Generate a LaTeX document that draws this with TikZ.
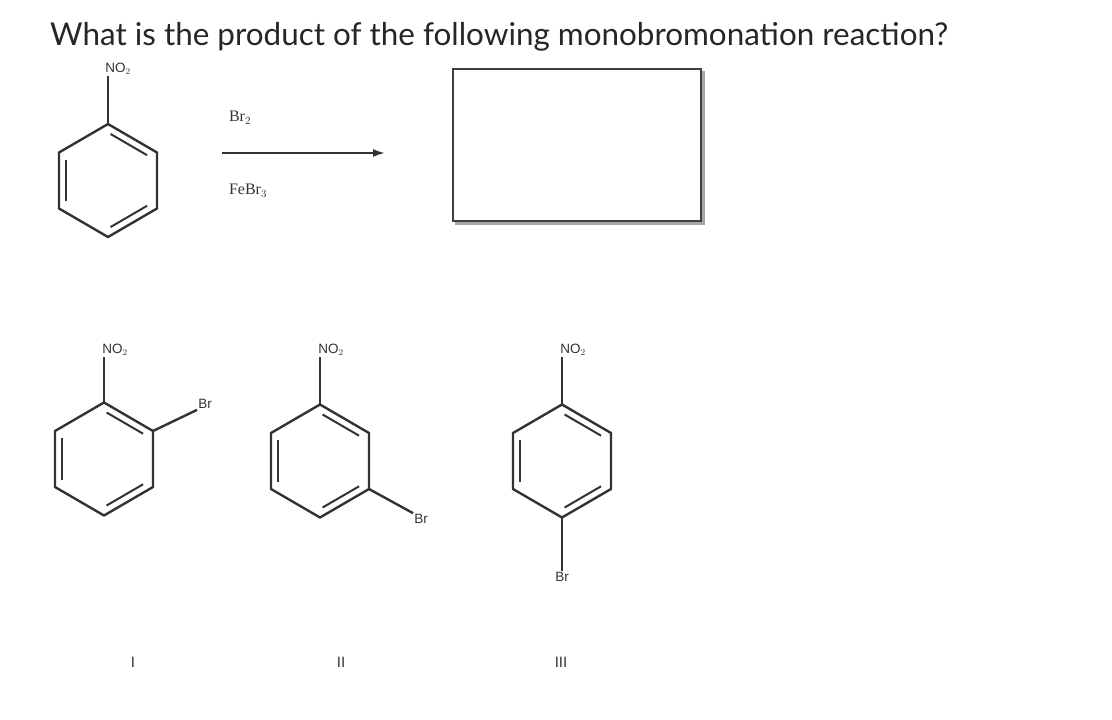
\documentclass[tikz,border=0pt]{standalone}
\usepackage{fontspec}
\setmainfont{Liberation Serif}
\setsansfont{Liberation Sans}
\newfontfamily\titlefont{Lato}
\usetikzlibrary{calc,arrows.meta}
\definecolor{bond}{HTML}{333333}
\tikzset{
  bondline/.style={draw=bond, line width=2.4pt},
  inner/.style={draw=bond, line width=2pt, shorten <=3pt, shorten >=3pt},
  grp/.style={font=\sffamily\fontsize{13.5}{13.5}\selectfont, text=bond, inner sep=1pt},
  reag/.style={font=\fontsize{16}{16}\selectfont, text=bond, inner sep=1pt},
  numlab/.style={font=\sffamily\fontsize{15}{15}\selectfont, text=bond, inner sep=1pt}
}
\newcommand{\benz}[3]{%
  \coordinate (#1c) at (#2,#3);
  \coordinate (#11) at ($(#2,#3)+(0,-56.5)$);
  \coordinate (#12) at ($(#2,#3)+(49,-28)$);
  \coordinate (#13) at ($(#2,#3)+(49,28)$);
  \coordinate (#14) at ($(#2,#3)+(0,56.5)$);
  \coordinate (#15) at ($(#2,#3)+(-49,28)$);
  \coordinate (#16) at ($(#2,#3)+(-49,-28)$);
  \draw[bondline, line join=round] (#11)--(#12)--(#13)--(#14)--(#15)--(#16)--cycle;
  \draw[inner] ($(#1c)!0.85!(#11)$) -- ($(#1c)!0.85!(#12)$);
  \draw[inner] ($(#1c)!0.85!(#15)$) -- ($(#1c)!0.85!(#16)$);
  \draw[inner] ($(#1c)!0.85!(#13)$) -- ($(#1c)!0.85!(#14)$);
}
\begin{document}
\begin{tikzpicture}[x=1pt,y=-1pt]
\useasboundingbox[fill=white] (0,0) rectangle (1112,720);
\node[anchor=south west, inner sep=0, text=black!85] (title) at (50,51)
  {\resizebox{898pt}{!}{\titlefont\fontsize{26}{26}\selectfont What is the product of the following monobromonation reaction?}};
% starting material
\benz{s}{108}{180.5}
\node[grp] (sno) at (118,69) {NO$_2$};
\draw[bondline] (s1) -- (sno.south -| s1);
% reagents
\coordinate (arS) at (222,153);
\coordinate (arE) at (385,153);
\draw[draw=bond, line width=2pt, -{Latex[length=12pt,width=8pt]}] (arS) -- (arE);
\node[reag] (br2) at (240,118) {Br$_2$};
\node[reag] (febr) at (248,191) {FeBr$_3$};
% answer box
\fill[black!35] (455,71) rectangle (705,225);
\node[draw=black!75, fill=white, line width=1.6pt, minimum width=248pt, minimum height=152pt, anchor=north west, inner sep=0] (box) at (452,68) {};
% I
\benz{a}{104}{459}
\node[grp] (ano) at (115,350) {NO$_2$};
\draw[bondline] (a1) -- (ano.south -| a1);
\node[grp] (abr) at (205,404) {Br};
\draw[bondline] (a2) -- (abr.south west);
% II
\benz{b}{320}{461}
\node[grp] (bno) at (331,350) {NO$_2$};
\draw[bondline] (b1) -- (bno.south -| b1);
\node[grp] (bbr) at (421,519) {Br};
\draw[bondline] (b3) -- (bbr.north west);
% III
\benz{c}{562}{461}
\node[grp] (cno) at (573,350) {NO$_2$};
\draw[bondline] (c1) -- (cno.south -| c1);
\node[grp] (cbr) at (562,577) {Br};
\draw[bondline] (c4) -- (cbr.north);
% labels
\node[numlab] (l1) at (133,662) {I};
\node[numlab] (l2) at (341,662) {II};
\node[numlab] (l3) at (561,662) {III};
\end{tikzpicture}
\end{document}
